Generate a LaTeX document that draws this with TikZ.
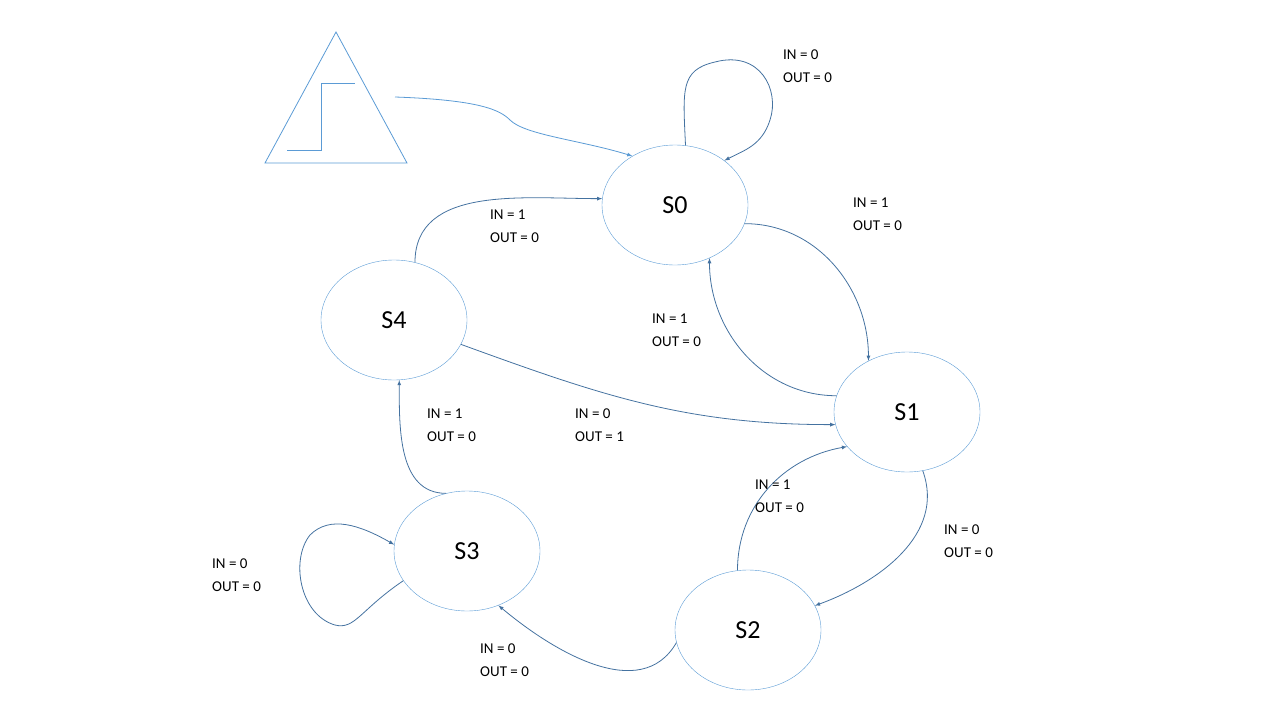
\documentclass[tikz,border=0pt]{standalone}
\usepackage{fontspec}
\setmainfont{Carlito}
\usetikzlibrary{shapes.geometric}
\definecolor{ringblue}{RGB}{91,155,213}
\definecolor{arcblue}{RGB}{68,114,160}
\begin{document}
\begin{tikzpicture}[x=1pt,y=-1pt]
\tikzset{state/.style={draw=ringblue,ellipse,minimum width=146pt,minimum height=120pt,font=\fontsize{26}{30}\selectfont},
 trans/.style={draw=arcblue,thick,-latex},
 lbl/.style={anchor=north west,align=left,inner sep=0pt,font=\fontsize{15}{23}\selectfont}}
\useasboundingbox (0,0) rectangle (1280,720);
% the start symbol
\draw[ringblue,thick] (265,163) -- (336,32) -- (407,163) -- cycle;
\draw[ringblue,thick] (287,150) -- (321,150) -- (321,83) -- (355,83);
\coordinate (start) at (395,97);
%states:
\node[state] (s0) at (675,205) {S0};
\node[state] (s1) at (907,412) {S1};
\node[state] (s2) at (748,630) {S2};
\node[state] (s3) at (467,551) {S3};
\node[state] (s4) at (394,320) {S4};
%transitions:
\draw[trans,draw=ringblue] (start) .. controls (480,100) and (500,110) .. (510,120) .. controls (525,135) and (580,140) .. (s0.131);
\draw[trans] (s0.80) .. controls (683,90) and (680,70) .. (715,62) .. controls (760,50) and (780,90) .. (770,120) .. controls (762,145) and (745,150) .. (s0.42);
\draw[trans] (s0.-15) to[out=0,in=90] (s1.127);
\draw[trans] (s1.167) to[out=180,in=-90] (s0.-57);
\draw[trans] (s4.70) to[out=90,in=180] (s0.175);
\draw[trans] (s4.-20) to[out=-20,in=180] (s1.190);
\draw[trans] (s1.-75) to[out=-70,in=20] (s2.20);
\draw[trans] (s2.100) to[out=90,in=190] (s1.210);
\draw[trans] (s2.190) to[out=-120,in=-40] (s3.-60);
\draw[trans] (s3.205) .. controls (360,610) and (355,630) .. (335,625) .. controls (300,615) and (290,560) .. (310,535) .. controls (330,515) and (360,525) .. (s3.175);
\draw[trans] (s3.110) to[out=180,in=-90] (s4.-85);
%labels:
\node[lbl] (l00) at (783,50) {IN = 0\\OUT = 0};
\node[lbl] (l01) at (853,198) {IN = 1\\OUT = 0};
\node[lbl] (l10) at (652,314) {IN = 1\\OUT = 0};
\node[lbl] (l40) at (490,210) {IN = 1\\OUT = 0};
\node[lbl] (l41) at (575,409) {IN = 0\\OUT = 1};
\node[lbl] (l34) at (427,409) {IN = 1\\OUT = 0};
\node[lbl] (l21) at (755,480) {IN = 1\\OUT = 0};
\node[lbl] (l12) at (944,525) {IN = 0\\OUT = 0};
\node[lbl] (l23) at (480,644) {IN = 0\\OUT = 0};
\node[lbl] (l33) at (212,559) {IN = 0\\OUT = 0};
\end{tikzpicture}
\end{document}
